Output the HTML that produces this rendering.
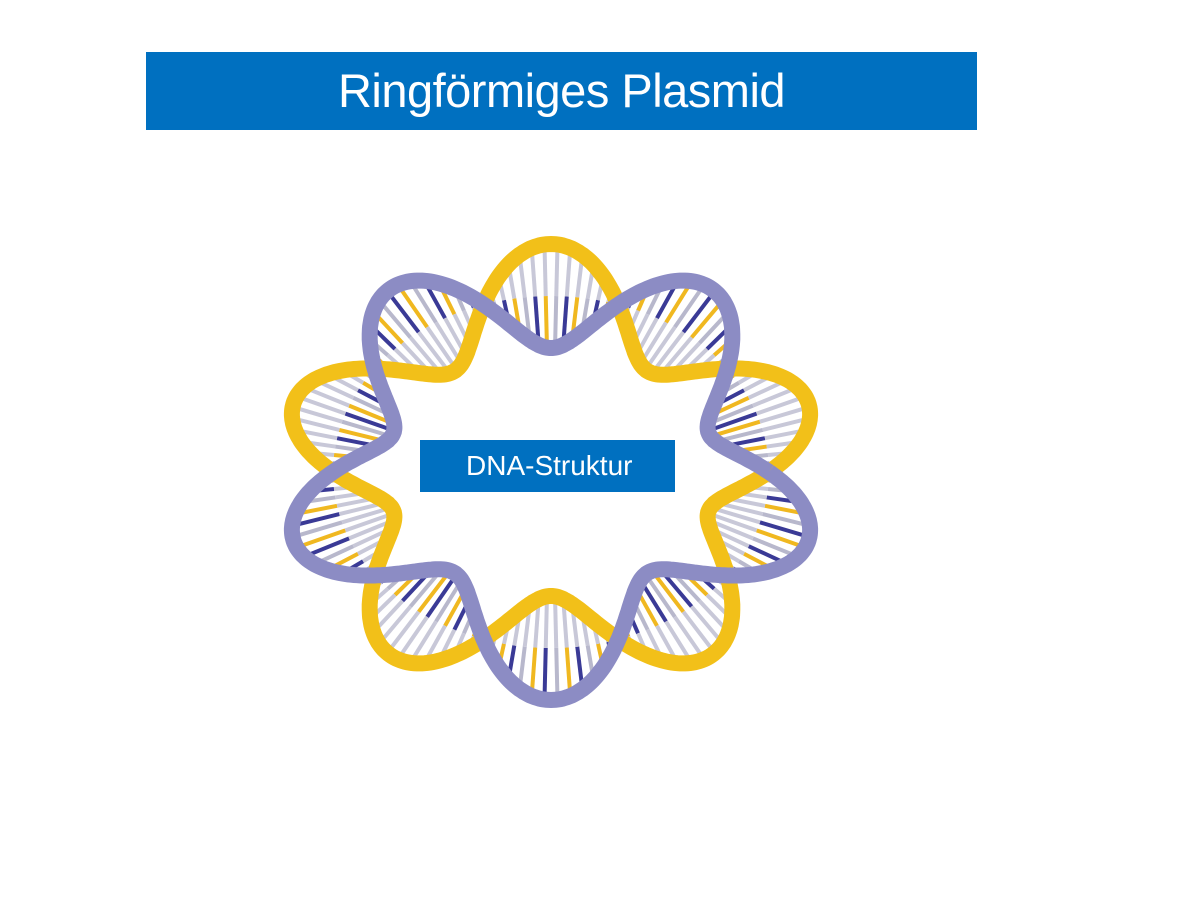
<!DOCTYPE html>
<html><head><meta charset="utf-8"><style>
html,body{margin:0;padding:0;background:#fff;width:1200px;height:900px;overflow:hidden;font-family:"Liberation Sans",sans-serif}
.title{position:absolute;left:146px;top:52px;width:831px;height:78px;background:#0070c0;color:#fff;font-size:47px;line-height:78px;text-align:center;letter-spacing:-0.5px}
.lbl{position:absolute;left:420px;top:440px;width:255px;height:52px;background:#0070c0;color:#fff;font-size:28px;line-height:52px;box-sizing:border-box;padding-left:46px;white-space:nowrap}
svg{position:absolute;left:0;top:0}
</style></head><body>
<svg id="s" width="1200" height="900"></svg>
<div class="title">Ringförmiges Plasmid</div>
<div class="lbl">DNA-Struktur</div>
<script>
var s=document.getElementById('s'),cx=551,cy=472,rx=218,ry=176,a=52,N=5,h='';
function pt(t,ph){var k=Math.sin(N*t+ph);return [cx+(rx+a*k)*Math.cos(t),cy+(ry+a*k)*Math.sin(t)];}
for(var i=0;i<130;i++){var t=i/130*2*Math.PI;var p=pt(t,0),q=pt(t,Math.PI);
var mx=(p[0]+q[0])/2,my=(p[1]+q[1])/2;var c=i%3==0?'#3a3a96':(i%3==1?'#f0b820':'#b8b8cc');
h+='<line x1="'+p[0]+'" y1="'+p[1]+'" x2="'+mx+'" y2="'+my+'" stroke="'+c+'" stroke-width="4"/>';
h+='<line x1="'+mx+'" y1="'+my+'" x2="'+q[0]+'" y2="'+q[1]+'" stroke="#c8c8d8" stroke-width="4"/>';}
function strand(ph,col){var d='';for(var i=0;i<=720;i++){var t=i/720*2*Math.PI;var p=pt(t,ph);d+=(i?'L':'M')+p[0].toFixed(1)+' '+p[1].toFixed(1);}
return '<path d="'+d+'" fill="none" stroke="'+col+'" stroke-width="16"/>';}
h+=strand(Math.PI,'#f2c019');
h+=strand(0,'#8c8cc4');
s.innerHTML=h;
</script>
</body></html>
